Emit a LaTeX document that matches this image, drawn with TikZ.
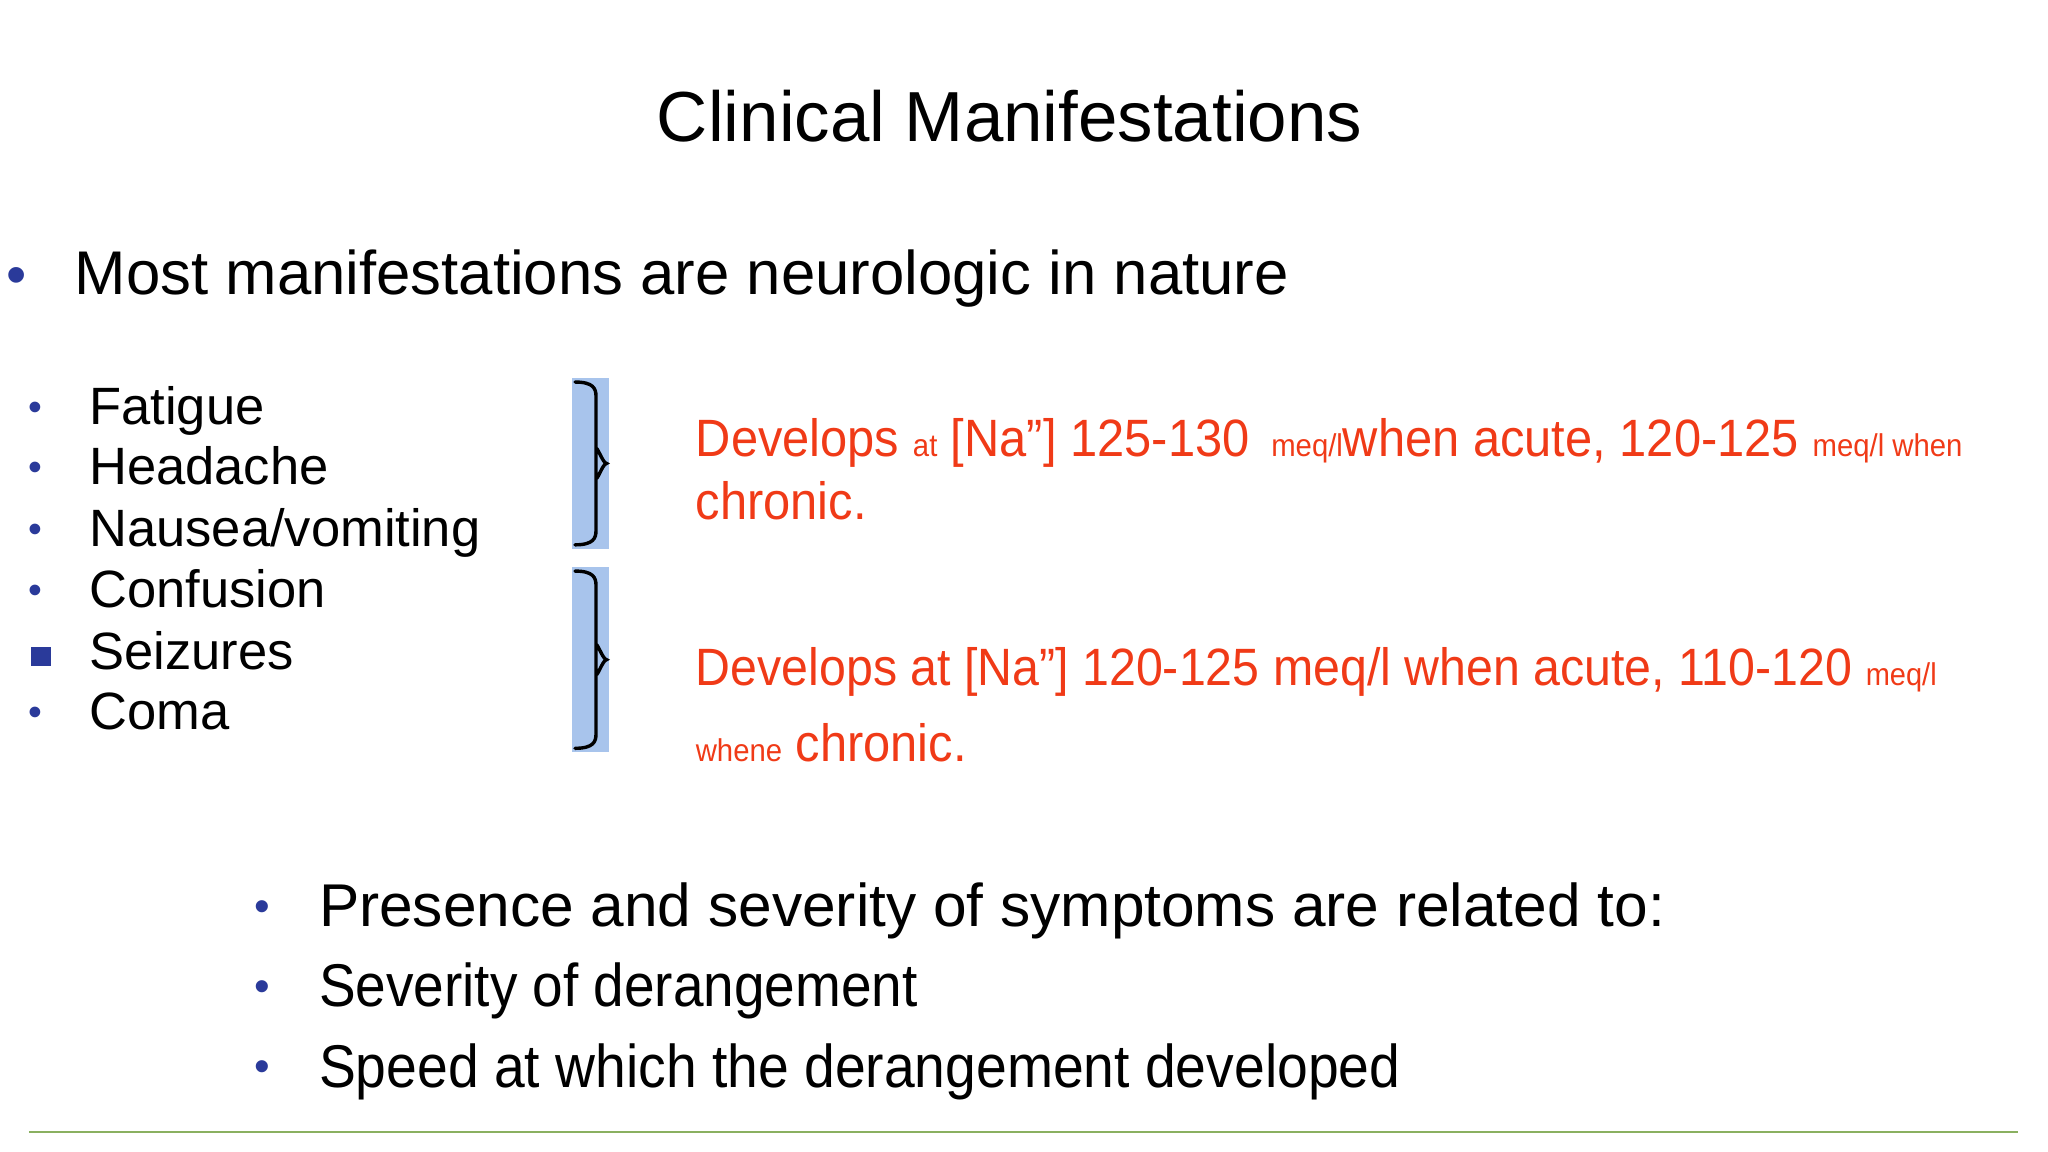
\documentclass[tikz,border=0pt]{standalone}
\usepackage{fontspec}
\setmainfont{Liberation Sans}
\usepackage{graphicx}
\definecolor{bul}{HTML}{2A3A9A}
\definecolor{red1}{HTML}{F03A17}
\definecolor{brk}{HTML}{A8C4EC}
\definecolor{grn}{HTML}{8AB060}
\begin{document}
\begin{tikzpicture}[x=1pt,y=-1pt,
  every node/.style={inner sep=0pt,outer sep=0pt},
  item/.style={anchor=base west,font=\fontsize{40}{44}\selectfont},
  bitem/.style={anchor=base west,font=\fontsize{46}{50}\selectfont},
  dot/.style={anchor=base,text=bul},
  red/.style={anchor=base west,text=red1,font=\fontsize{40}{44}\selectfont},
  brace/.style={line width=2.6pt,line cap=round}]
\useasboundingbox (0,0) rectangle (1560,877.5);
\node[anchor=base,font=\fontsize{54}{60}\selectfont] (title) at (769,108) {Clinical Manifestations};
\node[dot,font=\fontsize{44}{50}\selectfont] (b0) at (13,224) {•};
\node[anchor=base west,font=\fontsize{47}{52}\selectfont] (main) at (57,224) {Most manifestations are neurologic in nature};
% left list
\foreach \t/\y [count=\i] in {Fatigue/323,Headache/369,Nausea\slash vomiting/416,Confusion/463,Seizures/510,Coma/556}{
  \node[item] (l\i) at (68,\y) {\t};
}
\foreach \y [count=\i] in {323,369,416,463,556}{
  \node[dot,font=\fontsize{30}{30}\selectfont] (d\i) at (27,\y-3) {•};
}
\node[fill=bul,minimum size=15pt] (sq) at (31,500) {};
% brackets
\node[fill=brk,minimum width=28pt,minimum height=130pt,anchor=north west] (br1) at (436,288) {};
\node[fill=brk,minimum width=28pt,minimum height=141pt,anchor=north west] (br2) at (436,432) {};
\foreach \b in {br1,br2}{
\draw[brace] ([xshift=2pt,yshift=-3pt]\b.north west) .. controls +(14,0) and +(0,-6) .. ([xshift=18pt,yshift=-14pt]\b.north west) -- ([xshift=18pt,yshift=-10pt]\b.west) .. controls +(0,6) and +(-3,0) .. ([xshift=26pt]\b.west) .. controls +(-3,0) and +(0,-6) .. ([xshift=18pt,yshift=10pt]\b.west) -- ([xshift=18pt,yshift=14pt]\b.south west) .. controls +(0,6) and +(14,0) .. ([xshift=2pt,yshift=3pt]\b.south west);
}
% red texts
\node[red] (r1) at (530,348) {\scalebox{0.93}[1]{Develops {\fontsize{24}{26}\selectfont at} [Na”] 125-130 \,{\fontsize{24}{26}\selectfont meq/l}when acute, 120-125 {\fontsize{24}{26}\selectfont meq/l when}}};
\node[red] (r2) at (530,396) {\scalebox{0.93}[1]{chronic.}};
\node[red] (r3) at (530,522) {\scalebox{0.92}[1]{Develops at [Na”] 120-125 meq/l when acute, 110-120 {\fontsize{24}{26}\selectfont meq/l}}};
\node[red] (r4) at (530,580) {\scalebox{0.93}[1]{{\fontsize{24}{26}\selectfont whene} chronic.}};
% bottom bullets
\foreach \t/\y [count=\i] in {Presence and severity of symptoms are related to:/706,\scalebox{0.91}[1]{Severity of derangement}/767,\scalebox{0.915}[1]{Speed at which the derangement developed}/828}{
  \node[bitem] (c\i) at (243,\y) {\t};
  \node[dot,font=\fontsize{34}{34}\selectfont] (e\i) at (200,\y-4) {•};
}
\coordinate (g1) at (22,862);
\coordinate (g2) at (1537,862);
\draw[grn,line width=1.5pt] (g1) -- (g2);
\end{tikzpicture}
\end{document}
